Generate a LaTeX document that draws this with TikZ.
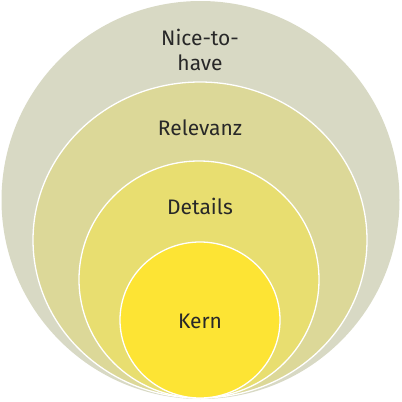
\documentclass[tikz,border=0pt]{standalone}
\usepackage{fontspec}
\setmainfont{Fira Sans}
\definecolor{cOuter}{RGB}{216,217,196}
\definecolor{cSecond}{RGB}{220,216,152}
\definecolor{cThird}{RGB}{232,222,112}
\definecolor{cInner}{RGB}{253,228,52}
\definecolor{cText}{RGB}{40,40,40}
\begin{document}
\begin{tikzpicture}[x=1pt,y=-1pt,
  ring/.style={draw=white,line width=1.3pt},
  lbl/.style={text=cText,font=\fontsize{21}{25}\selectfont,align=center,inner sep=0pt}]
\useasboundingbox (0,0) rectangle (402,402);
\fill[cOuter] (200.5,200) ellipse [x radius=199, y radius=199];
\draw[ring,fill=cSecond] (200,240) ellipse [x radius=167, y radius=158];
\draw[ring,fill=cThird] (199,279.5) ellipse [x radius=120, y radius=118.5];
\draw[ring,fill=cInner] (200,320) ellipse [x radius=80, y radius=78];
\node[lbl] (n1) at (200,50) {Nice-to-\\have};
\node[lbl] (n2) at (200,128) {Relevanz};
\node[lbl] (n3) at (200,206) {Details};
\node[lbl] (n4) at (200,321) {Kern};
\end{tikzpicture}
\end{document}
